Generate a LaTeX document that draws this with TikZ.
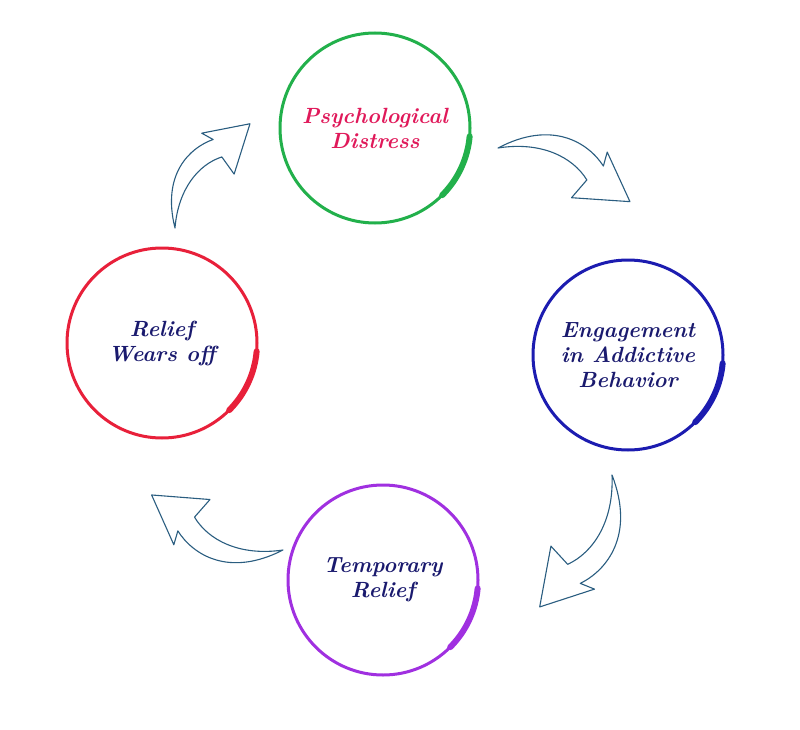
\documentclass[tikz,border=0pt]{standalone}
\usetikzlibrary{calc}
\definecolor{cg}{HTML}{22B04B}
\definecolor{cb}{HTML}{1C1CB0}
\definecolor{cp}{HTML}{A030E0}
\definecolor{cr}{HTML}{E8203A}
\definecolor{tn}{HTML}{1A1A6E}
\definecolor{tr}{HTML}{E0195A}
\definecolor{ar}{HTML}{2A5D80}
\tikzset{
  ring/.style={line width=3pt},
  lbl/.style={align=center,font=\fontsize{22}{25}\selectfont\bfseries\itshape,text=tn},
  cyc/.pic={\draw[ar,line width=1.1pt,fill=white,line join=round]
    (0,0) .. controls (25,35) and (55,32) .. (72,22) -- (70,32) -- (100,8) -- (62,-8) -- (66,8)
    .. controls (50,18) and (25,18) .. (0,0) -- cycle;}
}
\begin{document}
\begin{tikzpicture}[x=1pt,y=-1pt]
\useasboundingbox (0,0) rectangle (800,730);
\foreach \n/\x/\y/\c in {g/375/128/cg, b/628/355/cb, p/383/580/cp, r/162/343/cr}{
  \coordinate (\n) at (\x,\y);
  \draw[ring,\c] (\n) circle[radius=95];
  \draw[\c,line width=6pt,line cap=round] ($(\n)+(5:95)$) arc[start angle=5,end angle=45,radius=95];
}
\node[lbl,text=tr] (tg) at (g) {Psychological\\Distress};
\node[lbl] (tb) at (b) {Engagement\\in Addictive\\Behavior};
\node[lbl] (tp) at (p) {Temporary\\Relief};
\node[lbl] (tr) at (r) {Relief\\Wears off};
\pic[shift={(498,148)},rotate=-26.7,scale=1.42,yscale=-1] {cyc};
\pic[shift={(175,228)},rotate=49.7,scale=1.28,yscale=-1] {cyc};
\pic[shift={(612,475)},rotate=-123.3,scale=1.5,yscale=-1] {cyc};
\pic[shift={(283,550)},rotate=-207.3,scale=1.42,yscale=-1] {cyc};
\end{tikzpicture}
\end{document}
